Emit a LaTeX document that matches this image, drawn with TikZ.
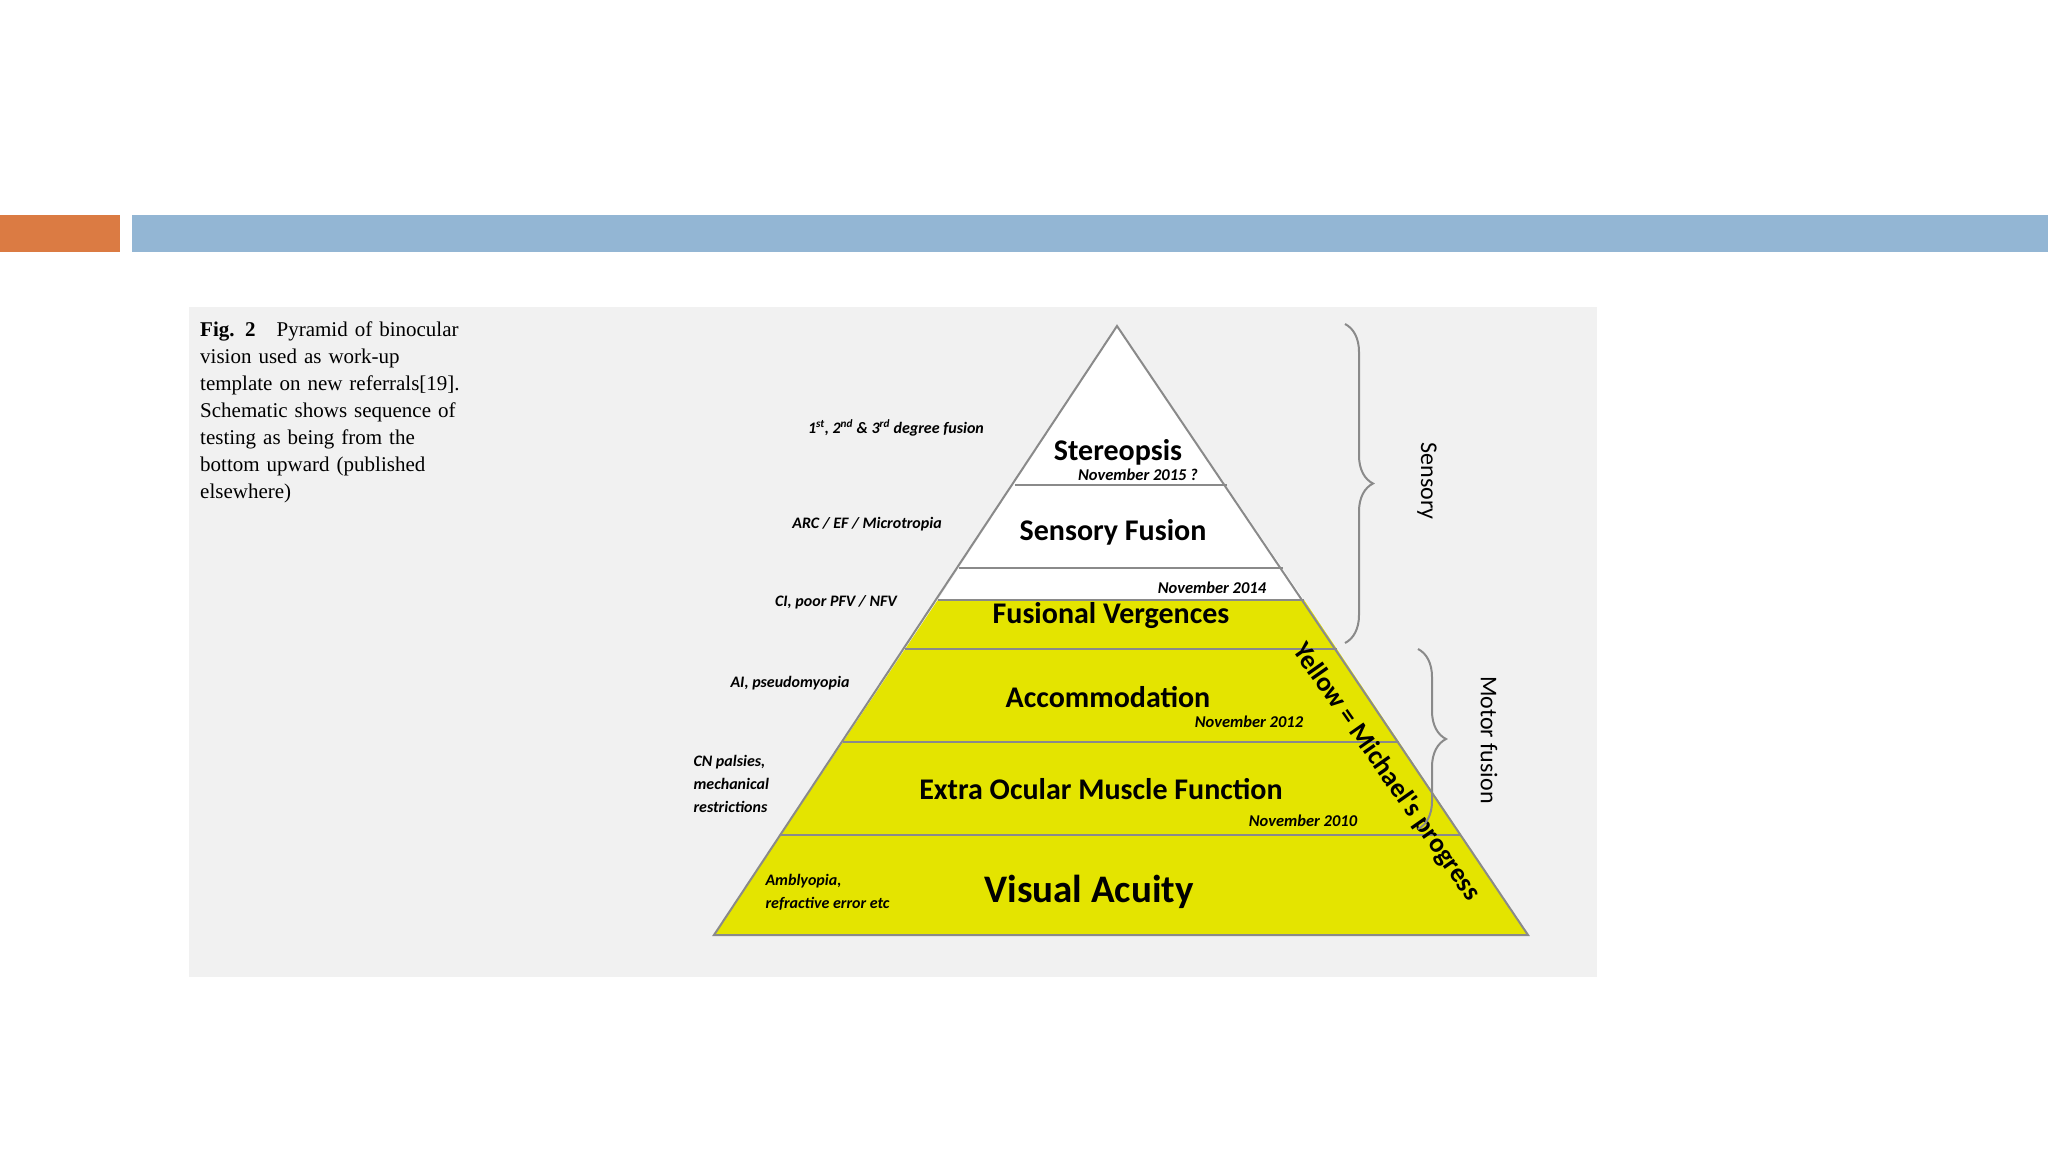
\documentclass[tikz,border=0pt]{standalone}
\usepackage{fontspec}
\setmainfont{Liberation Serif}
\newfontfamily\cf{Carlito}
\usetikzlibrary{decorations.pathreplacing}
\definecolor{pyy}{HTML}{E4E400}
\definecolor{panel}{HTML}{F1F1F1}
\definecolor{edge}{HTML}{8A8A8A}
\definecolor{obar}{HTML}{DB7B43}
\definecolor{bbar}{HTML}{93B6D4}
\tikzset{
 big/.style={font=\cf\fontsize{30}{32}\selectfont\bfseries},
 date/.style={font=\cf\fontsize{16.5}{18}\selectfont\bfseries\itshape},
 side/.style={font=\cf\fontsize{16}{18}\selectfont\bfseries\itshape},
 brc/.style={draw=edge,line width=2pt,decorate,decoration={brace,amplitude=28pt}},
 lbl/.style={font=\cf\fontsize{24}{26}\selectfont,rotate=-90}
}
\begin{document}
\begin{tikzpicture}[x=1pt,y=-1pt]
\useasboundingbox (0,0) rectangle (2048,1152);
\fill[white] (0,0) rectangle (2048,1152);
\fill[obar] (0,215) rectangle (120,252);
\fill[bbar] (132,215) rectangle (2048,252);
\fill[panel] (189,307) rectangle (1597,977);
\node[anchor=north west,align=left,text width=300pt,inner sep=0pt,font=\fontsize{21}{27}\selectfont] (cap) at (200,322)
 {\textbf{Fig. 2}\quad Pyramid of binocular\\vision used as work-up\\template on new referrals[19].\\Schematic shows sequence of\\testing as being from the\\bottom upward (published\\elsewhere)};
% pyramid
\fill[pyy] (937.9,600) -- (1304.1,600) -- (1528,935) -- (714,935) -- cycle;
\fill[white] (1117,326) -- (937.9,600) -- (1304.1,600) -- cycle;
\draw[edge,line width=2pt] (1117,326) -- (1528,935) -- (714,935) -- cycle;
\foreach \y/\h in {485/106.3,568/161.7,600/183.1,649/215.9,742/278.0,835/340.2}
 \draw[edge,line width=1.5pt] (1121-\h,\y) -- (1121+\h,\y);
% texts
\node[big] (st) at (1118,452) {Stereopsis};
\node[date] (d15) at (1138,475) {November 2015 ?};
\node[big] (sf) at (1113,532) {Sensory Fusion};
\node[date] (d14) at (1212,588) {November 2014};
\node[big] (fv) at (1111,616) {Fusional Vergences};
\node[big] (ac) at (1108,697) {Accommodation};
\node[date] (d12) at (1249,722) {November 2012};
\node[big] (eo) at (1101,789) {Extra Ocular Muscle Function};
\node[date] (d10) at (1303,821) {November 2010};
\node[big,font=\cf\fontsize{39}{40}\selectfont\bfseries] (va) at (1089,892) {Visual Acuity};
\node[side] (l1) at (896,428) {1\textsuperscript{st}, 2\textsuperscript{nd} \& 3\textsuperscript{rd} degree fusion};
\node[side] (l2) at (867,524) {ARC / EF / Microtropia};
\node[side] (l3) at (836,602) {CI, poor PFV / NFV};
\node[side] (l4) at (790,683) {AI, pseudomyopia};
\node[side,anchor=west,align=left,font=\cf\fontsize{16}{23}\selectfont\bfseries\itshape] (l5) at (690,784) {CN palsies,\\mechanical\\restrictions};
\node[side,anchor=west,align=left,font=\cf\fontsize{16}{23}\selectfont\bfseries\itshape] (l6) at (762,892) {Amblyopia,\\refractive error etc};
\node[font=\cf\fontsize{27}{28}\selectfont\bfseries,rotate=-55] (yl) at (1386,772) {Yellow = Michael's progress};
% braces
\coordinate (s1) at (1345,324); \coordinate (s2) at (1345,643);
\draw[brc] (s1) -- (s2);
\node[lbl] (sen) at (1427,481) {Sensory};
\coordinate (m1) at (1418,649); \coordinate (m2) at (1418,829);
\draw[brc] (m1) -- (m2);
\node[lbl] (mot) at (1489,740) {Motor fusion};
\end{tikzpicture}
\end{document}
